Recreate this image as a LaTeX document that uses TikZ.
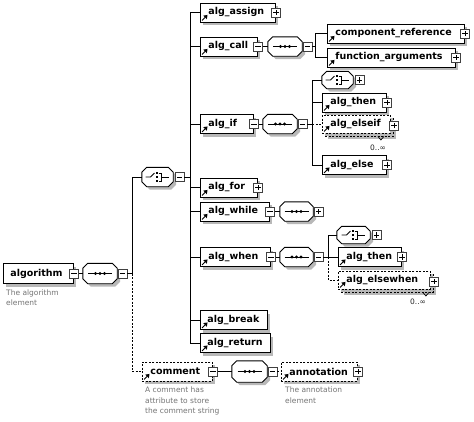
\documentclass[tikz,border=0pt]{standalone}
\usepackage{fontspec}
\newfontfamily\dvs{DejaVu Sans}
\usetikzlibrary{shadows,arrows.meta}
\newcommand\elfont{\dvs\bfseries\fontsize{9.5}{11}\selectfont}
\newcommand\descfont{\dvs\fontsize{7.5}{10.3}\selectfont}
\newcommand\linkmark[1]{%
  \draw[line width=0.9pt] ([xshift=2pt,yshift=2pt]#1.south west) -- ([xshift=5pt,yshift=5pt]#1.south west);
  \fill ([xshift=7.5pt,yshift=7.5pt]#1.south west) -- ([xshift=3.2pt,yshift=6.8pt]#1.south west) -- ([xshift=6.8pt,yshift=3.2pt]#1.south west) -- cycle;}
\newcommand\octapath[1]{([xshift=5pt]#1.north west) -- ([xshift=-5pt]#1.north east) -- ([yshift=-5pt]#1.north east) -- ([yshift=5pt]#1.south east) -- ([xshift=-5pt]#1.south east) -- ([xshift=5pt]#1.south west) -- ([yshift=5pt]#1.south west) -- ([yshift=-5pt]#1.north west) -- cycle}
\newcommand\octa[1]{%
  \fill[black!28, transform canvas={shift={(3pt,-3pt)}}] \octapath{#1};
  \draw[line width=0.9pt, fill=white] \octapath{#1};}
\newcommand\seqsym[1]{%
  \draw[line width=0.8pt] ([xshift=-12pt]#1.center) -- ([xshift=12pt]#1.center);
  \foreach \d in {-4.5,0,4.5}{\fill[black] ([xshift=\d pt]#1.center) circle (1.7pt);}}
\newcommand\choicesym[1]{%
  \draw[line width=0.8pt] ([xshift=-12pt]#1.center) -- ([xshift=-7pt]#1.center) -- ([xshift=-3pt,yshift=4pt]#1.center);
  \foreach \d in {-4,0,4}{\fill[black] ([xshift=-1.6pt,yshift=\d pt-1pt]#1.center) rectangle ([xshift=0.4pt,yshift=\d pt+1pt]#1.center);}
  \draw[line width=0.8pt] ([xshift=1.2pt,yshift=4pt]#1.center) -- ([xshift=3.8pt,yshift=4pt]#1.center) -- ([xshift=3.8pt,yshift=-4pt]#1.center) -- ([xshift=1.2pt,yshift=-4pt]#1.center);
  \draw[line width=0.8pt] ([xshift=3.8pt]#1.center) -- ([xshift=11pt]#1.center);}
\begin{document}
\begin{tikzpicture}[x=1pt,y=-1pt,
  elem/.style={draw=black, fill=white, line width=0.9pt, rectangle, inner ysep=0pt, inner xsep=8pt,
    minimum height=19pt, anchor=west, align=left, font=\elfont,
    general shadow={fill=black!28, shadow xshift=3pt, shadow yshift=-3pt}},
  optel/.style={elem, dash pattern=on 2pt off 1.5pt},
  backel/.style={draw=black, fill=white, line width=0.9pt, rectangle, inner sep=0pt, anchor=west,
    dash pattern=on 2pt off 1.5pt, minimum height=18pt,
    general shadow={fill=black!28, shadow xshift=3pt, shadow yshift=-3pt}},
  comp/.style={rectangle, inner sep=0pt, minimum width=#1, minimum height=19pt},
  btn/.style={draw=black!75, fill=white, line width=0.7pt, rectangle, minimum size=9pt, inner sep=0pt},
  bminus/.style={btn, path picture={\draw[line width=0.7pt,black] ([xshift=-2.6pt]path picture bounding box.center) -- ([xshift=2.6pt]path picture bounding box.center);}},
  bplus/.style={btn, path picture={\draw[line width=0.7pt,black] ([xshift=-2.6pt]path picture bounding box.center) -- ([xshift=2.6pt]path picture bounding box.center) ([yshift=-2.6pt]path picture bounding box.center) -- ([yshift=2.6pt]path picture bounding box.center);}},
  conn/.style={draw=black, line width=0.9pt},
  dconn/.style={conn, dash pattern=on 2pt off 1.5pt},
  desc/.style={anchor=north west, align=left, inner sep=0pt, font=\descfont, text=black!55},
  occ/.style={inner sep=0pt, font=\descfont, text=black!85}
]
\useasboundingbox (0,0) rectangle (474,421);

% root
\node[elem, inner xsep=7pt, text width=56pt, minimum height=20pt] (algorithm) at (3,273.5) {algorithm};
\node[bminus] (algorithm-b) at (algorithm.east) {};
\node[desc] (d-alg) at (6,289.5) {The algorithm\\element};
\node[comp=34pt, minimum height=20pt] (s0) at (100,273.5) {};
\octa{s0}\seqsym{s0}
\node[bminus, anchor=west] (s0-b) at ([xshift=0.5pt]s0.east) {};
\coordinate (v0) at (132,273.5);
\node[comp=31pt, minimum height=19pt] (c0) at (157.5,177) {};
\octa{c0}\choicesym{c0}
\node[bminus, anchor=west] (c0-b) at ([xshift=1.5pt]c0.east) {};
\coordinate (v1) at (190,177);

% children of the choice
\node[elem, text width=59pt] (assign) at (200,12.5) {alg\_assign};
\node[bplus] (assign-b) at (assign.east) {};
\node[elem, text width=41pt] (call) at (200,46.5) {alg\_call};
\node[bminus] (call-b) at (call.east) {};
\node[elem, text width=37pt] (if) at (200,124) {alg\_if};
\node[bminus] (if-b) at (if.east) {};
\node[elem, text width=41pt] (for) at (200,187.5) {alg\_for};
\node[bplus] (for-b) at (for.east) {};
\node[elem, text width=53pt] (while) at (200,211.5) {alg\_while};
\node[bminus] (while-b) at (while.east) {};
\node[elem, text width=54pt] (when) at (200,257) {alg\_when};
\node[bminus] (when-b) at (when.east) {};
\node[elem, inner xsep=7pt, text width=53pt] (break) at (200,320) {alg\_break};
\node[elem, inner xsep=7pt, text width=56pt] (return) at (200,343) {alg\_return};

% alg_call
\node[comp=34pt] (s2) at (285,46.5) {};
\octa{s2}\seqsym{s2}
\node[bminus, anchor=west] (s2-b) at ([xshift=0.5pt]s2.east) {};
\coordinate (v2) at (315,46.5);
\node[elem, text width=121pt] (compref) at (327,33.5) {component\_reference};
\node[bplus] (compref-b) at (compref.east) {};
\node[elem, text width=112pt] (funcargs) at (327,57.5) {function\_arguments};
\node[bplus] (funcargs-b) at (funcargs.east) {};

% alg_if
\node[comp=34pt] (s3) at (280,124) {};
\octa{s3}\seqsym{s3}
\node[bminus, anchor=west] (s3-b) at ([xshift=0.5pt]s3.east) {};
\coordinate (v3) at (312,124);
\node[comp=31pt, minimum height=17pt] (c3) at (337.5,80) {};
\octa{c3}\choicesym{c3}
\node[bplus, anchor=west] (c3-b) at ([xshift=1.5pt]c3.east) {};
\node[elem, text width=48pt] (then1) at (322,102.5) {alg\_then};
\node[bplus] (then1-b) at (then1.east) {};
\node[backel, minimum width=68pt] (elseif-bk) at (325,127) {};
\node[optel, text width=52pt, minimum height=18pt, general shadow={fill=none}] (elseif) at (322,124) {alg\_elseif};
\node[bplus] (elseif-b) at ([yshift=1.5pt]elseif-bk.east) {};
\node[occ] (o1) at (378,148) {0..∞};
\node[elem, text width=48pt] (else1) at (322,165) {alg\_else};
\node[bplus] (else1-b) at (else1.east) {};

% alg_while
\node[comp=33pt] (s5) at (296.5,211.5) {};
\octa{s5}\seqsym{s5}
\node[bplus, anchor=west] (s5-b) at ([xshift=0.5pt]s5.east) {};

% alg_when
\node[comp=33pt] (s6) at (296.5,257) {};
\octa{s6}\seqsym{s6}
\node[bminus, anchor=west] (s6-b) at ([xshift=0.5pt]s6.east) {};
\coordinate (v6) at (328,257);
\node[comp=33pt, minimum height=17pt] (c6) at (353.5,235) {};
\octa{c6}\choicesym{c6}
\node[bplus, anchor=west] (c6-b) at ([xshift=1.5pt]c6.east) {};
\node[elem, text width=47pt] (then2) at (338,257) {alg\_then};
\node[bplus] (then2-b) at (then2.east) {};
\node[backel, minimum width=92pt] (elsewhen-bk) at (341,283) {};
\node[optel, text width=76pt, minimum height=18pt, general shadow={fill=none}] (elsewhen) at (338,280) {alg\_elsewhen};
\node[bplus] (elsewhen-b) at ([yshift=1.5pt]elsewhen-bk.east) {};
\node[occ] (o2) at (418,302) {0..∞};

% comment
\node[optel, text width=54pt] (comment) at (142,371.5) {comment};
\node[bminus] (comment-b) at (comment.east) {};
\node[desc] (d-comment) at (145,387) {A comment has\\attribute to store\\the comment string};
\node[comp=35pt, minimum height=21pt] (s7) at (249.5,371.5) {};
\octa{s7}\seqsym{s7}
\node[bminus, anchor=west] (s7-b) at ([xshift=0.5pt]s7.east) {};
\node[optel, text width=60pt] (annotation) at (281,371.5) {annotation};
\node[bplus] (annotation-b) at (annotation.east) {};
\node[desc] (d-annot) at (285,387) {The annotation\\element};

% link marks
\foreach \n in {assign,call,if,for,while,when,break,return,compref,funcargs,then1,elseif,else1,then2,elsewhen,comment,annotation}{\linkmark{\n}}

% multiplicity notches
\draw[line width=0.7pt] ([xshift=-16pt]elseif-bk.south east) -- ([xshift=-13pt,yshift=-3.5pt]elseif-bk.south east) -- ([xshift=-10pt]elseif-bk.south east);
\draw[line width=0.7pt] ([xshift=-11pt]elsewhen-bk.south east) -- ([xshift=-8pt,yshift=-3.5pt]elsewhen-bk.south east) -- ([xshift=-5pt]elsewhen-bk.south east);

% connectors
\draw[conn] (algorithm-b.east) -- (s0.west);
\draw[conn] (s0-b.east) -- (v0);
\draw[conn] (v0) |- (c0.west);
\draw[dconn] (v0) |- (comment.west);
\draw[conn] (c0-b.east) -- (v1);
\foreach \n in {assign,call,if,for,while,when,break,return}{\draw[conn] (v1) |- (\n.west);}
\draw[conn] (call-b.east) -- (s2.west);
\draw[conn] (s2-b.east) -- (v2);
\draw[conn] (v2) |- (compref.west);
\draw[conn] (v2) |- (funcargs.west);
\draw[conn] (if-b.east) -- (s3.west);
\draw[conn] (s3-b.east) -- (v3);
\draw[conn] (v3) |- (c3.west);
\draw[conn] (v3) |- (then1.west);
\draw[conn] (v3) |- (else1.west);
\draw[dconn] (v3) -- (elseif.west);
\draw[conn] (while-b.east) -- (s5.west);
\draw[conn] (when-b.east) -- (s6.west);
\draw[conn] (s6-b.east) -- (v6);
\draw[conn] (v6) |- (c6.west);
\draw[conn] (v6) -- (then2.west);
\draw[dconn] (v6) |- (elsewhen.west);
\draw[conn] (comment-b.east) -- (s7.west);
\draw[dconn] (s7-b.east) -- (annotation.west);
\end{tikzpicture}
\end{document}
